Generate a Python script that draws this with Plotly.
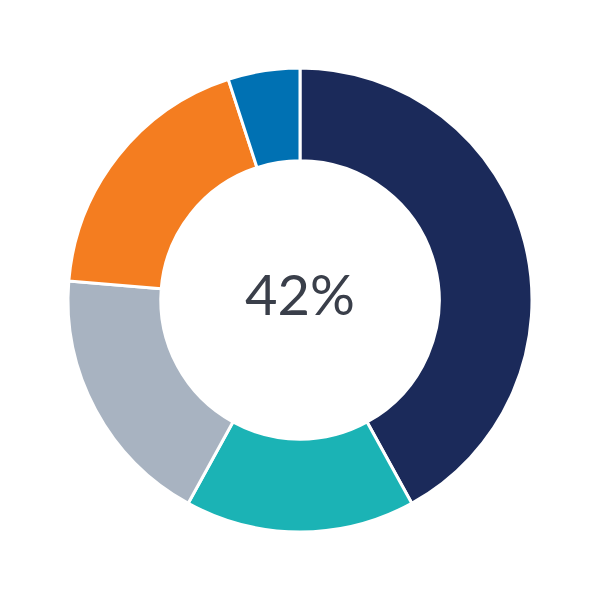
import plotly.graph_objects as go

labels = ["A", "B", "C", "D", "E"]
values = [42, 16, 18.3, 18.7, 5]
colors = ["#1b2a5a", "#1bb3b5", "#a8b3c1", "#f47d20", "#0071b3"]
center_text = "42%"

fig = go.Figure(go.Pie(
    labels=labels,
    values=values,
    hole=0.6,
    sort=False,
    direction="clockwise",
    rotation=0,
    marker=dict(colors=colors, line=dict(color="white", width=3)),
    textinfo="none",
    hoverinfo="none",
    showlegend=False,
))
fig.update_layout(
    width=600, height=600,
    margin=dict(l=60, r=76, t=60, b=76),
    paper_bgcolor="white",
    annotations=[dict(text=center_text, x=0.5, y=0.513, xref="paper", yref="paper",
                      showarrow=False,
                      font=dict(family="Lato", size=56, color="#3a3f4a"))],
)
fig.write_html("out.html")
